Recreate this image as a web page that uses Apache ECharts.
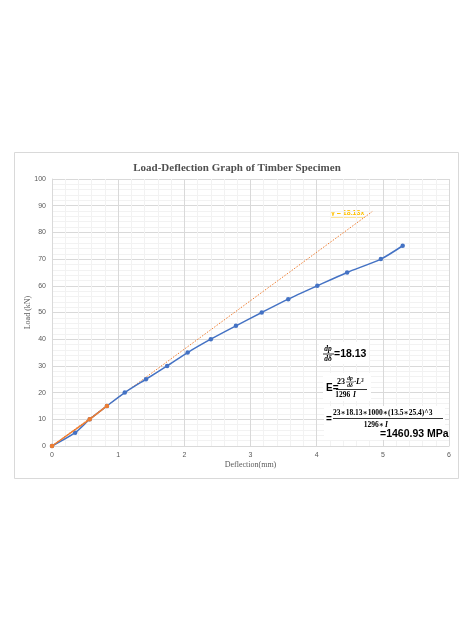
<!DOCTYPE html>
<html><head><meta charset="utf-8">
<script src="https://cdn.jsdelivr.net/npm/echarts@6/dist/echarts.min.js"></script>
<style>html,body{margin:0;padding:0;background:#fff}#c{width:474px;height:632px}</style>
</head><body><div id="c"></div>
<script>
// ---- data ----
var blueDeflection = [0, 0.35, 0.57, 0.83, 1.10, 1.42, 1.74, 2.05, 2.40, 2.78, 3.17, 3.57, 4.01, 4.46, 4.97, 5.30];
var blueLoad       = [0, 5, 10, 15, 20, 25, 30, 35, 40, 45, 50, 55, 60, 65, 70, 75];
var orangeDeflection = [0, 0.57, 0.83];
var orangeLoad       = [0, 10, 15];
var trendDeflection = [0, 4.84];
var trendLoad       = [0, 87.8];
var trendLabel = 'y = 18.13x';
var titleText = 'Load-Deflection Graph of Timber Specimen';
var xName = 'Deflection(mm)';
var yName = 'Load (kN)';

function pairs(xs, ys){ return xs.map(function(x,i){ return [x, ys[i]]; }); }

var chart = echarts.init(document.getElementById('c'), null, {renderer:'canvas'});
var serif = '"Liberation Serif","DejaVu Serif",serif';
var sans = '"Liberation Sans","DejaVu Sans",sans-serif';
var math = '"Liberation Serif","DejaVu Serif",serif';
var grey = '#595959';

function T(x, y, text, opt){
  var s = {text: text, fontFamily: math, fontWeight: 'bold', fontSize: 7.5, fill: '#000', verticalAlign: 'middle', align: 'left'};
  for (var k in opt) s[k] = opt[k];
  return {type: 'text', x: x, y: y, z: 20, silent: true, style: s};
}
function L(x1, y1, x2, w){
  return {type: 'line', z: 20, silent: true, shape: {x1: x1, y1: y1, x2: x2, y2: y1}, style: {stroke: '#000', lineWidth: w || 0.8}};
}
function W(x, y, w, h){
  return {type: 'rect', z: 15, silent: true, shape: {x: x, y: y, width: w, height: h}, style: {fill: '#fff'}};
}

chart.setOption({
  backgroundColor: '#fff',
  animation: false,
  title: {
    text: titleText, left: 'center', top: 158,
    textStyle: {fontFamily: serif, fontWeight: 'bold', fontSize: 11, color: '#505050'}
  },
  grid: {left: 52, right: 25, top: 179, bottom: 186},
  xAxis: {
    type: 'value', min: 0, max: 6, interval: 1,
    name: xName, nameLocation: 'middle', nameGap: 15, nameMoveOverlap: false,
    nameTextStyle: {fontFamily: serif, fontSize: 8, color: grey},
    axisLine: {show: true, lineStyle: {color: '#d9d9d9'}},
    axisTick: {show: false},
    axisLabel: {fontFamily: sans, fontSize: 7, color: grey, margin: 6},
    splitLine: {show: true, lineStyle: {color: '#d9d9d9', width: 1}},
    minorTick: {show: false, splitNumber: 5},
    minorSplitLine: {show: true, lineStyle: {color: '#f2f2f2', width: 1}}
  },
  yAxis: {
    type: 'value', min: 0, max: 100, interval: 10,
    name: yName, nameLocation: 'middle', nameGap: 20, nameRotate: 90, nameMoveOverlap: false,
    nameTextStyle: {fontFamily: serif, fontSize: 8, color: grey},
    axisLine: {show: true, lineStyle: {color: '#d9d9d9'}},
    axisTick: {show: false},
    axisLabel: {fontFamily: sans, fontSize: 7, color: grey, margin: 6},
    splitLine: {show: true, lineStyle: {color: '#d9d9d9', width: 1}},
    minorTick: {show: false, splitNumber: 5},
    minorSplitLine: {show: true, lineStyle: {color: '#f2f2f2', width: 1}}
  },
  series: [
    {
      type: 'line', data: pairs(trendDeflection, trendLoad), symbol: 'none',
      lineStyle: {color: '#ED7D31', width: 1, type: [1.5, 1.5]}, z: 1
    },
    {
      type: 'line', data: pairs(blueDeflection, blueLoad), smooth: 0.25,
      symbol: 'circle', symbolSize: 4.5,
      itemStyle: {color: '#4472C4'}, lineStyle: {color: '#4472C4', width: 1.5}, z: 2
    },
    {
      type: 'line', data: pairs(orangeDeflection, orangeLoad),
      symbol: 'circle', symbolSize: 4.5,
      itemStyle: {color: '#ED7D31'}, lineStyle: {color: '#ED7D31', width: 1.5}, z: 3
    }
  ],
  graphic: [
    {type: 'rect', shape: {x: 14.5, y: 152.5, width: 444, height: 326},
     style: {fill: 'none', stroke: '#d9d9d9', lineWidth: 1}, silent: true, z: -10},
    // trendline label
    {type: 'text', x: 331, y: 213, style: {text: trendLabel, fontFamily: sans, fontWeight: 'bold', fontSize: 7, fill: '#FFC000', verticalAlign: 'middle'}},
    {type: 'line', shape: {x1: 331, y1: 217, x2: 365, y2: 217}, style: {stroke: '#FFC000', lineWidth: 0.8}},
    // white boxes behind formulas
    W(319, 342, 50, 22),
    W(323, 373, 48, 28),
    W(324, 406, 121, 34),
    // dp/dδ = 18.13
    T(328, 349, 'dp', {fontStyle: 'italic', align: 'center'}),
    L(323, 354, 334),
    T(328, 359.5, 'dδ', {fontStyle: 'italic', align: 'center'}),
    T(334, 354, '=18.13', {fontFamily: sans, fontSize: 10.5}),
    // E = 23 (dp/dδ) L^3 / 1296 I
    T(326, 388, 'E=', {fontFamily: sans, fontSize: 10}),
    T(337, 382, '23', {fontSize: 8}),
    T(350, 378.5, 'dp', {fontStyle: 'italic', fontSize: 5.5, align: 'center'}),
    L(346, 382, 354, 0.6),
    T(350, 385.5, 'dδ', {fontStyle: 'italic', fontSize: 5.5, align: 'center'}),
    T(354, 382, '∙L³', {fontStyle: 'italic', fontSize: 8}),
    L(336, 389.5, 367),
    T(352, 395.5, '1296 ', {align: 'right'}),
    T(353, 395.5, 'I', {fontStyle: 'italic'}),
    // = 23*18.13*1000*(13.5*25.4)^3 / 1296*I
    T(326, 419, '=', {fontFamily: sans, fontSize: 10}),
    T(333, 413, '23∗18.13∗1000∗(13.5∗25.4)^3', {fontSize: 7.5}),
    L(333, 418.5, 443),
    T(384, 425, '1296∗', {align: 'right'}),
    T(385, 425, 'I', {fontStyle: 'italic'}),
    T(380, 434.5, '=1460.93 MPa', {fontFamily: sans, fontSize: 10.5})
  ]
});
</script></body></html>
